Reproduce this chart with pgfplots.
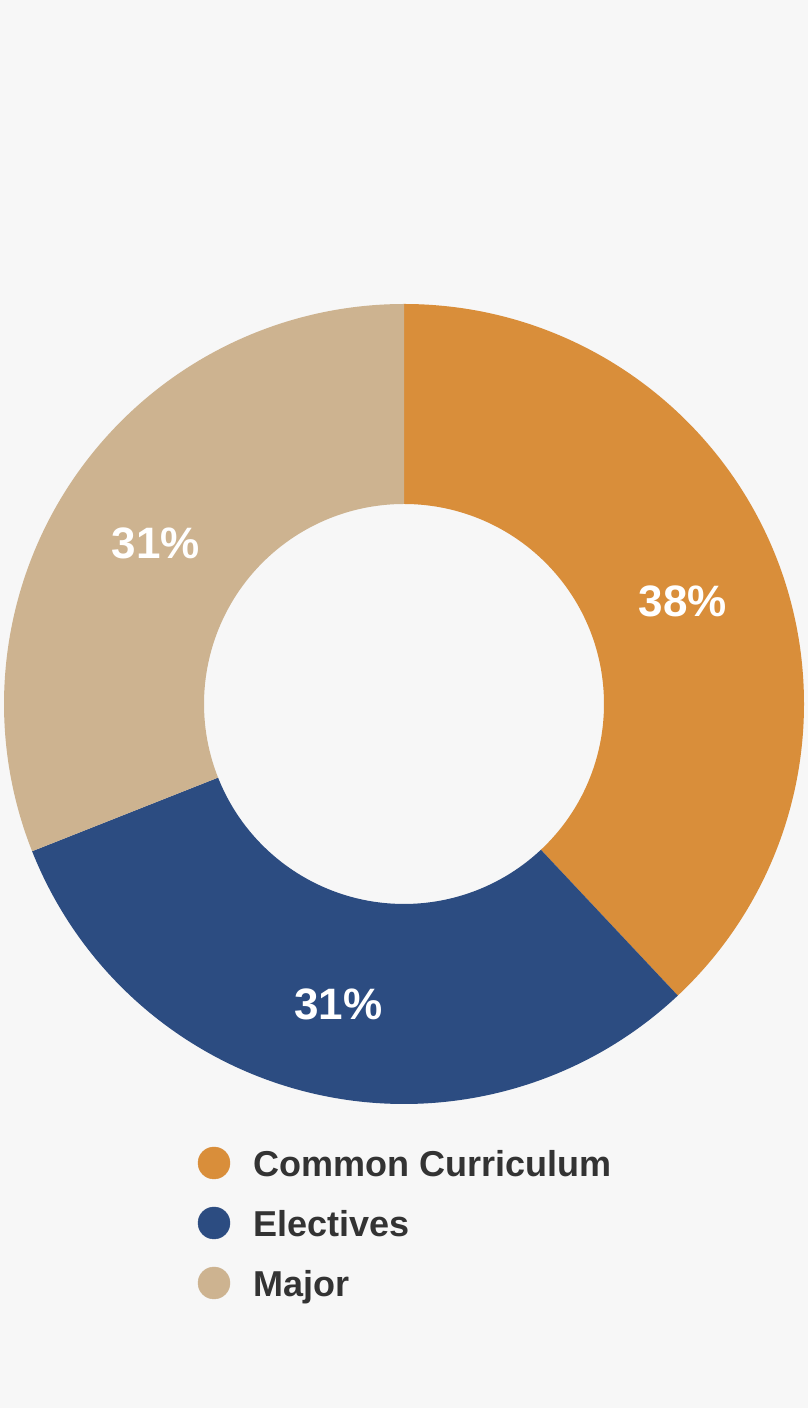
\documentclass[border=0pt]{standalone}
\usepackage{fontspec}
\setmainfont{Liberation Sans}
\usepackage{pgfplots}
\usepackage{pgfplotstable}
\pgfplotsset{compat=1.18}
\definecolor{bgcol}{HTML}{F7F7F7}
\definecolor{ccol}{HTML}{D98E3A}
\definecolor{ecol}{HTML}{2C4C81}
\definecolor{mcol}{HTML}{CDB390}
\definecolor{txtcol}{HTML}{333333}

% share of credits, percent
\pgfplotstableread{
label value
{Common Curriculum} 38
Electives 31
Major 31
}\pietable

\pgfplotstablegetelem{0}{value}\of\pietable \let\vA\pgfplotsretval
\pgfplotstablegetelem{1}{value}\of\pietable \let\vB\pgfplotsretval
\pgfplotstablegetelem{2}{value}\of\pietable \let\vC\pgfplotsretval

% slice boundaries, clockwise from the top
\pgfmathsetmacro\aA{90}
\pgfmathsetmacro\aB{\aA-3.6*\vA}
\pgfmathsetmacro\aC{\aB-3.6*\vB}
\pgfmathsetmacro\aD{\aC-3.6*\vC}
\pgfmathsetmacro\mA{(\aA+\aB)/2}
\pgfmathsetmacro\mB{(\aB+\aC)/2}
\pgfmathsetmacro\mC{(\aC+\aD)/2}

\newcommand\slice[3]{% start, end, colour
  \fill[#3] (axis cs:404,704) ++(#1:400pt) arc[start angle=#1, end angle=#2, radius=400pt]%
    -- ++(#2+180:200pt) arc[start angle=#2, end angle=#1, radius=200pt] -- cycle;}
\tikzset{pct/.style={anchor=base, inner sep=0pt, text=white,
  font=\fontsize{44}{50}\selectfont\bfseries},
  leg/.style={anchor=base west, inner sep=0pt, text=txtcol,
  font=\fontsize{36}{42}\selectfont\bfseries}}

\begin{document}%
\noindent\begin{tikzpicture}
\begin{axis}[
  x=1pt, y=1pt,
  xmin=0, xmax=808, ymin=0, ymax=1408,
  hide axis, clip=false,
]
\fill[bgcol] (axis cs:0,0) rectangle (axis cs:808,1408);
\coordinate (bl) at (axis cs:0,0);
\coordinate (tr) at (axis cs:808,1408);
\slice{\aA}{\aB}{ccol}
\slice{\aB}{\aC}{ecol}
\slice{\aC}{\aD}{mcol}
\path (axis cs:404,681) ++(\mA:300pt) node[pct] {\vA\%};
\path (axis cs:404,681) ++(\mB:300pt) node[pct] {\vB\%};
\path (axis cs:404,681) ++(\mC:300pt) node[pct] {\vC\%};

% legend
\addplot[only marks, mark=*, mark size=16pt, color=ccol] coordinates {(214,245)};
\addplot[only marks, mark=*, mark size=16pt, color=ecol] coordinates {(214,185)};
\addplot[only marks, mark=*, mark size=16pt, color=mcol] coordinates {(214,125)};
\node[leg] at (axis cs:253,231) {Common Curriculum};
\node[leg] at (axis cs:253,171) {Electives};
\node[leg] at (axis cs:253,111) {Major};
\end{axis}
\pgfresetboundingbox
\useasboundingbox (bl) rectangle (tr);
\end{tikzpicture}%
\end{document}
